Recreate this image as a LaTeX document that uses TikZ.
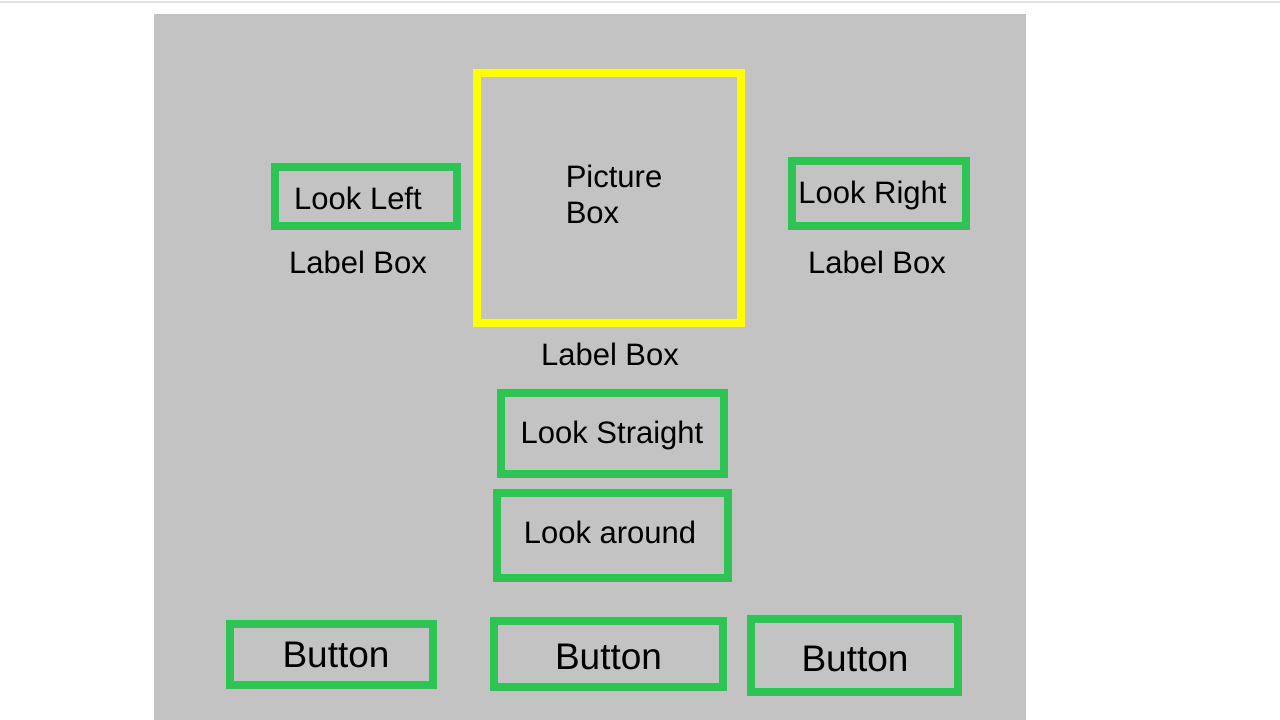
\documentclass[tikz,border=0pt]{standalone}
\usepackage{fontspec}
\setmainfont{Liberation Sans}
\usetikzlibrary{positioning}
\definecolor{panelgray}{RGB}{195,195,195}
\definecolor{boxgreen}{RGB}{45,196,84}
\definecolor{boxyellow}{RGB}{255,255,0}
\definecolor{topline}{RGB}{226,226,226}

\tikzset{
  greenbox/.style={draw=boxgreen, line width=8pt, inner sep=0pt},
  picturebox/.style={draw=boxyellow, line width=8pt, inner sep=0pt},
  labeltext/.style={inner sep=0pt, font=\fontsize{31}{36}\selectfont,
    text height=22pt, text depth=0pt},
  buttontext/.style={labeltext, font=\fontsize{37}{44}\selectfont, text height=26.5pt},
  picturetext/.style={inner sep=0pt, align=left, font=\fontsize{31}{36}\selectfont}
}

\begin{document}
\begin{tikzpicture}[x=1pt, y=-1pt]

                \useasboundingbox (0,0) rectangle (1280,720);
                \fill [white] (0,0) rectangle (1280,720);
                \draw [topline, line width=2pt] (0,1.5) -- (1280,1.5);
                \fill [panelgray] (154,14) rectangle (1026,720);

                % picture box and its label
                \node[picturebox, minimum width=264pt, minimum height=250pt] (picture) at (609,198) {};
                \node[picturetext] (picturetxt) at ([xshift=5pt, yshift=4pt]picture.center) {Picture\\Box};
                \node[labeltext] (picturelabel) at (610,354) {Label Box};

                % left and right label boxes
                \node[greenbox, minimum width=182pt, minimum height=59pt] (lookleft) at (366,196.5) {};
                \node[labeltext] (looklefttxt) at (358,198) {Look Left};
                \node[labeltext] (leftlabel) at (358,262) {Label Box};
                \node[greenbox, minimum width=174pt, minimum height=65pt] (lookright) at (879,193.5) {};
                \node[labeltext] (lookrighttxt) at (872.5,192) {Look Right};
                \node[labeltext] (rightlabel) at (877,262) {Label Box};

                % middle column
                \node[greenbox, minimum width=223pt, minimum height=81pt] (lookstraight) at (612.5,433.5) {};
                \node[labeltext] (lookstraighttxt) at (612,432) {Look Straight};
                \node[greenbox, minimum width=231pt, minimum height=85pt] (lookaround) at (612.5,535.5) {};
                \node[labeltext] (lookaroundtxt) at (610,532) {Look around};

                % buttons
                \node[greenbox, minimum width=203pt, minimum height=61pt] (button1) at (331.5,654.5) {};
                \node[buttontext] (button1txt) at (336,654) {Button};
                \node[greenbox, minimum width=229pt, minimum height=66pt] (button2) at (608.5,654) {};
                \node[buttontext] (button2txt) at (608.5,656) {Button};
                \node[greenbox, minimum width=207pt, minimum height=73pt] (button3) at (854.5,655.5) {};
                \node[buttontext] (button3txt) at (855,658) {Button};

\end{tikzpicture}
\end{document}
